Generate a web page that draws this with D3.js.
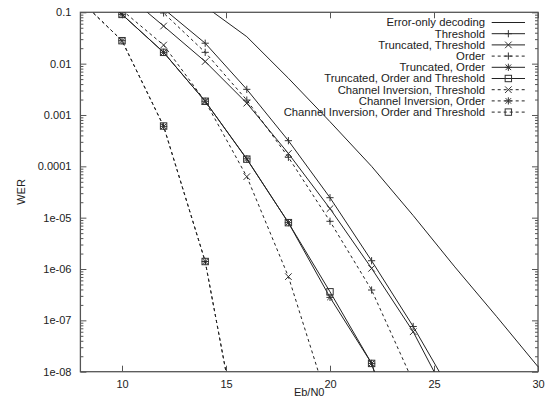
<!DOCTYPE html>
<html>
<head>
<meta charset="utf-8">
<script src="https://cdn.jsdelivr.net/npm/d3@7"></script>
<style>
body { margin: 0; background: #fff; }
svg { display: block; font-family: "Liberation Sans", Arial, Helvetica, sans-serif; }
</style>
</head>
<body>
<svg id="chart" width="550" height="405"></svg>
<script>
// ---- data ----
const xTicks = [10, 15, 20, 25, 30];
const yTicks = [0.1, 0.01, 0.001, 0.0001, 1e-5, 1e-6, 1e-7, 1e-8];
const yTickLabels = ["0.1", "0.01", "0.001", "0.0001", "1e-05", "1e-06", "1e-07", "1e-08"];

const errorOnlyX = [14, 16, 18, 20, 22, 24, 26, 28, 30];
const errorOnly  = [0.13, 0.0335, 5.2e-3, 7.4e-4, 1.0e-4, 1.1e-5, 1.1e-6, 1.2e-7, 1.25e-8];

const thresholdX = [12, 14, 16, 18, 20, 22, 24, 26];
const threshold  = [0.117, 0.025, 3.16e-3, 3.16e-4, 2.45e-5, 1.45e-6, 7.6e-8, 3e-9];

const truncThresholdX = [10, 12, 14, 16, 18, 20, 22, 24, 26];
const truncThreshold  = [0.26, 0.054, 0.011, 1.7e-3, 1.78e-4, 1.5e-5, 1.03e-6, 6e-8, 1.7e-9];

const orderX = [10, 12, 14, 16, 18, 20, 22, 24];
const order  = [0.4, 0.097, 0.0166, 1.95e-3, 1.5e-4, 8.5e-6, 3.9e-7, 6.3e-9];

const truncOrderX = [8, 10, 12, 14, 16, 18, 20, 22, 24];
const truncOrder  = [0.4, 0.091, 0.0166, 1.85e-3, 1.4e-4, 8e-6, 2.8e-7, 1.45e-8, 5e-11];

const truncOrderThresholdX = [8, 10, 12, 14, 16, 18, 20, 22, 24];
const truncOrderThreshold  = [0.4, 0.091, 0.0166, 1.85e-3, 1.38e-4, 8e-6, 3.6e-7, 1.45e-8, 5e-11];

const ciThresholdX = [10, 12, 14, 16, 18, 20];
const ciThreshold  = [0.11, 0.023, 1.85e-3, 6.3e-5, 7.1e-7, 1.9e-9];

const ciOrderX = [8, 10, 12, 14, 16];
const ciOrder  = [0.17, 0.028, 6e-4, 1.4e-6, 7e-11];

const ciOrderThresholdX = [8, 10, 12, 14, 16];
const ciOrderThreshold  = [0.17, 0.028, 6.1e-4, 1.4e-6, 7e-11];

const seriesNames = [
  "Error-only decoding", "Threshold", "Truncated, Threshold", "Order",
  "Truncated, Order", "Truncated, Order and Threshold",
  "Channel Inversion, Threshold", "Channel Inversion, Order",
  "Channel Inversion, Order and Threshold"
];

// ---- styles ----
const series = [
  { name: seriesNames[0], x: errorOnlyX, y: errorOnly, dash: null, marker: null },
  { name: seriesNames[1], x: thresholdX, y: threshold, dash: null, marker: "plus" },
  { name: seriesNames[2], x: truncThresholdX, y: truncThreshold, dash: null, marker: "cross" },
  { name: seriesNames[3], x: orderX, y: order, dash: "3,3", marker: "plus" },
  { name: seriesNames[4], x: truncOrderX, y: truncOrder, dash: null, marker: "star" },
  { name: seriesNames[5], x: truncOrderThresholdX, y: truncOrderThreshold, dash: null, marker: "square" },
  { name: seriesNames[6], x: ciThresholdX, y: ciThreshold, dash: "3,3", marker: "cross" },
  { name: seriesNames[7], x: ciOrderX, y: ciOrder, dash: "3,3", marker: "star" },
  { name: seriesNames[8], x: ciOrderThresholdX, y: ciOrderThreshold, dash: "3,3", marker: "square" }
];

const L = 80.4, R = 538, T = 12.3, B = 371.7;
const xScale = d3.scaleLinear().domain([8, 30]).range([L, R]);
const yScale = d3.scaleLog().domain([1e-8, 0.1]).range([B, T]);

const svg = d3.select("#chart");
const lineColor = "#222";
const markColor = "#333";

svg.append("defs").append("clipPath").attr("id", "plotclip")
  .append("rect").attr("x", L).attr("y", T).attr("width", R - L).attr("height", B - T);

// ---- axes (ticks inward, mirrored) ----
const axisColor = "#555";
const bottomAxis = d3.axisBottom(xScale).tickValues(xTicks).tickSizeInner(-6).tickSizeOuter(0).tickPadding(9).tickFormat(d3.format("d"));
const topAxis = d3.axisTop(xScale).tickValues(xTicks).tickSizeInner(-6).tickSizeOuter(0).tickFormat("");
const leftAxis = d3.axisLeft(yScale).tickValues(yTicks).tickSizeInner(-6).tickSizeOuter(0).tickPadding(9)
  .tickFormat((d, i) => yTickLabels[i]);
const rightAxis = d3.axisRight(yScale).tickValues(yTicks).tickSizeInner(-6).tickSizeOuter(0).tickFormat("");

const minorVals = [];
yTicks.slice(1).forEach(base => { for (let m = 2; m <= 9; m++) minorVals.push(base * m); });
const leftMinor = d3.axisLeft(yScale).tickValues(minorVals).tickSizeInner(-3).tickSizeOuter(0).tickFormat("");
const rightMinor = d3.axisRight(yScale).tickValues(minorVals).tickSizeInner(-3).tickSizeOuter(0).tickFormat("");

function styleAxis(g) {
  g.select(".domain").remove();
  g.selectAll(".tick line").attr("stroke", axisColor).attr("stroke-width", 1);
  g.selectAll(".tick text").attr("fill", "#222").attr("font-size", 11).attr("font-family", "Liberation Sans, Arial, sans-serif");
}
svg.append("g").attr("transform", `translate(0,${B})`).call(bottomAxis).call(styleAxis);
svg.append("g").attr("transform", `translate(0,${T})`).call(topAxis).call(styleAxis);
svg.append("g").attr("transform", `translate(${L},0)`).call(leftAxis).call(styleAxis);
svg.append("g").attr("transform", `translate(${R},0)`).call(rightAxis).call(styleAxis);
svg.append("g").attr("transform", `translate(${L},0)`).call(leftMinor).call(styleAxis);
svg.append("g").attr("transform", `translate(${R},0)`).call(rightMinor).call(styleAxis);

svg.append("rect").attr("x", L).attr("y", T).attr("width", R - L).attr("height", B - T)
  .attr("fill", "none").attr("stroke", axisColor).attr("stroke-width", 1.3);

// axis titles
svg.append("text").attr("x", (L + R) / 2).attr("y", 396).attr("text-anchor", "middle")
  .attr("font-size", 11).attr("fill", "#222").text("Eb/N0");
svg.append("text").attr("transform", `translate(25,${(T + B) / 2}) rotate(-90)`).attr("text-anchor", "middle")
  .attr("font-size", 11).attr("fill", "#222").text("WER");

// ---- markers ----
function drawMarker(g, type, cx, cy) {
  const s = 3.6;
  if (type === "plus" || type === "star") {
    g.append("line").attr("x1", cx - s).attr("x2", cx + s).attr("y1", cy).attr("y2", cy);
    g.append("line").attr("x1", cx).attr("x2", cx).attr("y1", cy - s).attr("y2", cy + s);
  }
  if (type === "cross" || type === "star") {
    const c = type === "star" ? 2.8 : 3.3;
    g.append("line").attr("x1", cx - c).attr("x2", cx + c).attr("y1", cy - c).attr("y2", cy + c);
    g.append("line").attr("x1", cx - c).attr("x2", cx + c).attr("y1", cy + c).attr("y2", cy - c);
  }
  if (type === "square") {
    g.append("rect").attr("x", cx - 3.2).attr("y", cy - 3.2).attr("width", 6.4).attr("height", 6.4).attr("fill", "none");
  }
}

const plot = svg.append("g").attr("clip-path", "url(#plotclip)");
const line = d3.line().x(d => xScale(d[0])).y(d => yScale(d[1]));

series.forEach(s => {
  const pts = s.x.map((x, i) => [x, s.y[i]]);
  plot.append("path").datum(pts).attr("d", line)
    .attr("fill", "none").attr("stroke", lineColor).attr("stroke-width", 1)
    .attr("stroke-dasharray", s.dash);
  if (s.marker) {
    const mg = plot.append("g").attr("stroke", markColor).attr("stroke-width", 1);
    pts.filter(p => p[1] <= 0.1 && p[1] >= 1e-8)
      .forEach(p => drawMarker(mg, s.marker, xScale(p[0]), yScale(p[1])));
  }
});

// ---- legend ----
const legX1 = 491.7, legX2 = 525, legTextX = 485, legY0 = 22.5, legStep = 11.2;
const leg = svg.append("g");
series.forEach((s, i) => {
  const y = legY0 + i * legStep;
  leg.append("text").attr("x", legTextX).attr("y", y).attr("dy", "0.35em")
    .attr("text-anchor", "end").attr("font-size", 11.3).attr("fill", "#222").text(s.name);
  leg.append("line").attr("x1", legX1).attr("x2", legX2).attr("y1", y).attr("y2", y)
    .attr("stroke", lineColor).attr("stroke-width", 1).attr("stroke-dasharray", s.dash);
  if (s.marker) {
    const mg = leg.append("g").attr("stroke", markColor).attr("stroke-width", 1);
    drawMarker(mg, s.marker, (legX1 + legX2) / 2, y);
  }
});
</script>
</body>
</html>
